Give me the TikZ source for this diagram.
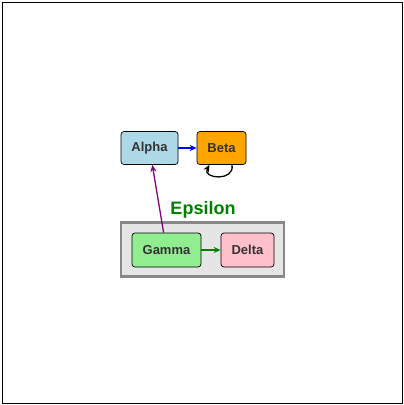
\documentclass[tikz,border=0pt]{standalone}
\usepackage{fontspec}
\setmainfont{Liberation Sans}
\usetikzlibrary{arrows.meta}
\definecolor{txt}{HTML}{333333}
\definecolor{cgreen}{HTML}{008000}
\definecolor{cpurple}{HTML}{800080}
\definecolor{cgrayb}{HTML}{888888}
\definecolor{cgrayf}{HTML}{E5E5E5}
\definecolor{clblue}{HTML}{ADD8E6}
\definecolor{corange}{HTML}{FFA500}
\definecolor{clgreen}{HTML}{90EE90}
\definecolor{cpink}{HTML}{FFC0CB}
\tikzset{
  box/.style={draw=black, line width=0.7pt, rounded corners=3pt, inner sep=0pt,
    font=\bfseries\fontsize{13}{15}\selectfont, text=txt},
  conn/.style={line width=1.3pt, -{Stealth[length=7pt,width=6pt]}},
}
\begin{document}
\begin{tikzpicture}[x=1pt,y=-1pt]
\useasboundingbox (0,0) rectangle (404,405);
\draw[line width=1pt] (2,2) rectangle (402,403);
% container
\node[draw=cgrayb, line width=2.5pt, fill=cgrayf,
  minimum width=163pt, minimum height=54pt, inner sep=0pt] (eps) at (202.5,249.5) {};
\node[font=\bfseries\fontsize{18}{20}\selectfont, text=cgreen] (epslabel) at (203,210) {Epsilon};
\node[box, fill=clblue, minimum width=57pt, minimum height=33pt] (alpha) at (149.5,148) {Alpha};
\node[box, fill=corange, minimum width=49pt, minimum height=33pt] (beta) at (221.5,148) {Beta};
\node[box, fill=clgreen, minimum width=69pt, minimum height=34pt] (gamma) at (166.5,250) {Gamma};
\node[box, fill=cpink, minimum width=53pt, minimum height=34pt] (delta) at (247.5,250) {Delta};
\draw[conn, blue] (alpha) -- (beta);
\draw[conn, cgreen] (gamma) -- (delta);
\draw[conn, cpurple] (gamma) -- (alpha);
\draw[conn, black] ([xshift=10.5pt]beta.south) .. controls +(3,17) and +(-8,14) .. ([xshift=-12pt]beta.south);
\end{tikzpicture}
\end{document}
